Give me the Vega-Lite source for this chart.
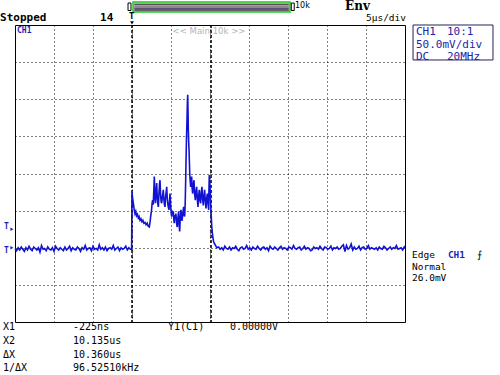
{
"$schema": "https://vega.github.io/schema/vega-lite/v6.json",
"width": 390, "height": 297,
"autosize": {"type": "none"},
"padding": {"left": 15, "top": 25, "right": 95, "bottom": 53},
"background": "white",
"config": {"view": {"stroke": "#000", "strokeWidth": 1}, "font": "DejaVu Sans Mono"},
"encoding": {
  "x": {"field": "t", "type": "quantitative", "scale": {"domain": [-15, 35], "nice": false, "zero": false},
        "axis": {"values": [-10,-5,0,5,10,15,20,25,30], "grid": true, "gridDash": [1,3], "gridColor": "#000", "gridOpacity": 1, "gridWidth": 1, "labels": false, "ticks": false, "domain": false, "title": null}},
  "y": {"field": "v", "type": "quantitative", "scale": {"domain": [-100, 300], "nice": false, "zero": false},
        "axis": {"values": [-50,0,50,100,150,200,250], "grid": true, "gridDash": [1,3], "gridColor": "#000", "gridOpacity": 1, "gridWidth": 1, "labels": false, "ticks": false, "domain": false, "title": null}}
},
"layer": [
  {"data": {"values": [{"t": 0}, {"t": 10.135}]},
   "mark": {"type": "rule", "color": "#000", "strokeWidth": 1.5, "strokeDash": [3, 2]},
   "encoding": {"y": null}},
  {"data": {"values": [
    {"t":-15.0,"v":-1},{"t":-14.8,"v":-4},{"t":-14.6,"v":0},{"t":-14.4,"v":-3},{"t":-14.2,"v":1},{"t":-14.0,"v":-2},{"t":-13.8,"v":-5},{"t":-13.6,"v":0},{"t":-13.4,"v":-3},{"t":-13.2,"v":2},
    {"t":-13.0,"v":-2},{"t":-12.8,"v":-4},{"t":-12.6,"v":1},{"t":-12.4,"v":-1},{"t":-12.2,"v":-3},{"t":-12.0,"v":0},{"t":-11.8,"v":-6},{"t":-11.6,"v":3},{"t":-11.4,"v":-2},{"t":-11.2,"v":-1},
    {"t":-11.0,"v":-4},{"t":-10.8,"v":1},{"t":-10.6,"v":-2},{"t":-10.4,"v":-3},{"t":-10.2,"v":0},{"t":-10.0,"v":-5},{"t":-9.8,"v":2},{"t":-9.6,"v":-1},{"t":-9.4,"v":-3},{"t":-9.2,"v":0},
    {"t":-9.0,"v":-2},{"t":-8.8,"v":-4},{"t":-8.6,"v":1},{"t":-8.4,"v":-3},{"t":-8.2,"v":-1},{"t":-8.0,"v":2},{"t":-7.8,"v":-4},{"t":-7.6,"v":0},{"t":-7.4,"v":-2},{"t":-7.2,"v":-3},
    {"t":-7.0,"v":1},{"t":-6.8,"v":-1},{"t":-6.6,"v":-5},{"t":-6.4,"v":0},{"t":-6.2,"v":-2},{"t":-6.0,"v":3},{"t":-5.8,"v":-3},{"t":-5.6,"v":-1},{"t":-5.4,"v":0},{"t":-5.2,"v":-4},
    {"t":-5.0,"v":2},{"t":-4.8,"v":-2},{"t":-4.6,"v":-1},{"t":-4.4,"v":-3},{"t":-4.2,"v":4},{"t":-4.0,"v":-2},{"t":-3.8,"v":0},{"t":-3.6,"v":-3},{"t":-3.4,"v":1},{"t":-3.2,"v":-4},
    {"t":-3.0,"v":-1},{"t":-2.8,"v":0},{"t":-2.6,"v":-2},{"t":-2.4,"v":3},{"t":-2.2,"v":-3},{"t":-2.0,"v":-1},{"t":-1.8,"v":1},{"t":-1.6,"v":-4},{"t":-1.4,"v":0},{"t":-1.2,"v":-2},
    {"t":-1.0,"v":-1},{"t":-0.8,"v":2},{"t":-0.6,"v":-3},{"t":-0.4,"v":0},{"t":-0.2,"v":-2},{"t":-0.05,"v":-2},
    {"t":0.0,"v":75},{"t":0.08,"v":66},{"t":0.17,"v":60},{"t":0.27,"v":52},{"t":0.38,"v":46},{"t":0.48,"v":49},{"t":0.58,"v":43},{"t":0.7,"v":45},{"t":0.81,"v":40},{"t":0.92,"v":42},
    {"t":1.03,"v":37},{"t":1.15,"v":39},{"t":1.27,"v":35},{"t":1.4,"v":37},{"t":1.52,"v":33},{"t":1.67,"v":34},{"t":1.8,"v":31},{"t":1.95,"v":33},{"t":2.08,"v":29},{"t":2.22,"v":28},
    {"t":2.32,"v":35},{"t":2.39,"v":42},{"t":2.5,"v":50},{"t":2.58,"v":60},{"t":2.65,"v":64},{"t":2.72,"v":58},{"t":2.8,"v":78},{"t":2.86,"v":96},{"t":2.93,"v":70},{"t":3.0,"v":60},
    {"t":3.08,"v":75},{"t":3.16,"v":87},{"t":3.25,"v":65},{"t":3.32,"v":58},{"t":3.38,"v":55},{"t":3.45,"v":72},{"t":3.52,"v":85},{"t":3.59,"v":91},{"t":3.67,"v":70},{"t":3.74,"v":62},
    {"t":3.81,"v":60},{"t":3.9,"v":70},{"t":3.96,"v":73},{"t":4.01,"v":78},{"t":4.1,"v":64},{"t":4.16,"v":58},{"t":4.23,"v":55},{"t":4.3,"v":68},{"t":4.38,"v":75},{"t":4.45,"v":82},
    {"t":4.52,"v":66},{"t":4.6,"v":58},{"t":4.67,"v":54},{"t":4.74,"v":51},{"t":4.8,"v":62},{"t":4.87,"v":73},{"t":4.95,"v":58},{"t":5.02,"v":47},{"t":5.09,"v":42},{"t":5.16,"v":50},
    {"t":5.23,"v":46},{"t":5.3,"v":49},{"t":5.36,"v":38},{"t":5.42,"v":33},{"t":5.5,"v":44},{"t":5.56,"v":40},{"t":5.63,"v":46},{"t":5.7,"v":35},{"t":5.76,"v":30},{"t":5.81,"v":28},
    {"t":5.88,"v":40},{"t":5.94,"v":45},{"t":5.98,"v":49},{"t":6.04,"v":32},{"t":6.11,"v":22},{"t":6.18,"v":38},{"t":6.24,"v":46},{"t":6.28,"v":51},{"t":6.35,"v":43},{"t":6.4,"v":36},
    {"t":6.45,"v":40},{"t":6.52,"v":47},{"t":6.58,"v":52},{"t":6.62,"v":55},{"t":6.68,"v":44},{"t":6.75,"v":42},{"t":6.82,"v":60},{"t":6.88,"v":90},{"t":6.92,"v":114},{"t":6.98,"v":145},
    {"t":7.05,"v":172},{"t":7.1,"v":195},{"t":7.14,"v":206},{"t":7.18,"v":185},{"t":7.22,"v":159},{"t":7.27,"v":142},{"t":7.31,"v":132},{"t":7.36,"v":115},{"t":7.4,"v":100},{"t":7.46,"v":90},
    {"t":7.52,"v":82},{"t":7.58,"v":88},{"t":7.65,"v":96},{"t":7.71,"v":80},{"t":7.78,"v":73},{"t":7.86,"v":85},{"t":7.95,"v":91},{"t":8.03,"v":72},{"t":8.12,"v":64},{"t":8.2,"v":75},
    {"t":8.29,"v":82},{"t":8.37,"v":66},{"t":8.46,"v":55},{"t":8.54,"v":70},{"t":8.63,"v":78},{"t":8.71,"v":64},{"t":8.8,"v":60},{"t":8.88,"v":74},{"t":8.97,"v":82},{"t":9.05,"v":66},
    {"t":9.14,"v":57},{"t":9.22,"v":70},{"t":9.31,"v":78},{"t":9.4,"v":62},{"t":9.49,"v":53},{"t":9.57,"v":66},{"t":9.66,"v":73},{"t":9.74,"v":60},{"t":9.83,"v":51},{"t":9.87,"v":80},
    {"t":9.91,"v":98},{"t":9.97,"v":88},{"t":10.04,"v":73},{"t":10.1,"v":55},{"t":10.17,"v":40},{"t":10.23,"v":28},{"t":10.3,"v":20},{"t":10.38,"v":13},{"t":10.47,"v":8},{"t":10.6,"v":5},
    {"t":10.73,"v":3},{"t":10.85,"v":0},
    {"t":11.1,"v":1},{"t":11.3,"v":-2},{"t":11.5,"v":0},{"t":11.7,"v":-3},{"t":11.9,"v":2},{"t":12.1,"v":-1},{"t":12.3,"v":-2},{"t":12.5,"v":1},{"t":12.7,"v":-3},{"t":12.9,"v":0},
    {"t":13.1,"v":-1},{"t":13.3,"v":2},{"t":13.5,"v":-2},{"t":13.7,"v":-4},{"t":13.9,"v":0},{"t":14.1,"v":1},{"t":14.3,"v":-2},{"t":14.5,"v":-1},{"t":14.7,"v":3},{"t":14.9,"v":-2},
    {"t":15.1,"v":0},{"t":15.3,"v":-3},{"t":15.5,"v":1},{"t":15.7,"v":-1},{"t":15.9,"v":-2},{"t":16.1,"v":2},{"t":16.3,"v":-1},{"t":16.5,"v":-3},{"t":16.7,"v":0},{"t":16.9,"v":1},
    {"t":17.1,"v":-2},{"t":17.3,"v":0},{"t":17.5,"v":-4},{"t":17.7,"v":2},{"t":17.9,"v":-1},{"t":18.1,"v":-2},{"t":18.3,"v":1},{"t":18.5,"v":-1},{"t":18.7,"v":-3},{"t":18.9,"v":0},
    {"t":19.1,"v":2},{"t":19.3,"v":-2},{"t":19.5,"v":0},{"t":19.7,"v":-1},{"t":19.9,"v":-3},{"t":20.1,"v":1},{"t":20.3,"v":0},{"t":20.5,"v":-2},{"t":20.7,"v":3},{"t":20.9,"v":-1},
    {"t":21.1,"v":-2},{"t":21.3,"v":0},{"t":21.5,"v":1},{"t":21.7,"v":-3},{"t":21.9,"v":-1},{"t":22.1,"v":2},{"t":22.3,"v":-2},{"t":22.5,"v":0},{"t":22.7,"v":-1},{"t":22.9,"v":-4},
    {"t":23.1,"v":-3},{"t":23.3,"v":1},{"t":23.5,"v":-1},{"t":23.7,"v":0},{"t":23.9,"v":-2},{"t":24.1,"v":2},{"t":24.3,"v":-1},{"t":24.5,"v":-3},{"t":24.7,"v":1},{"t":24.9,"v":0},
    {"t":25.1,"v":-2},{"t":25.3,"v":-1},{"t":25.5,"v":2},{"t":25.7,"v":-3},{"t":25.9,"v":0},{"t":26.1,"v":-1},{"t":26.3,"v":1},{"t":26.5,"v":-2},{"t":26.7,"v":-1},{"t":26.9,"v":2},
    {"t":27.1,"v":4},{"t":27.3,"v":-5},{"t":27.5,"v":3},{"t":27.7,"v":-2},{"t":27.9,"v":0},{"t":28.1,"v":5},{"t":28.3,"v":-3},{"t":28.5,"v":1},{"t":28.7,"v":-2},{"t":28.9,"v":-1},
    {"t":29.1,"v":2},{"t":29.3,"v":-3},{"t":29.5,"v":0},{"t":29.7,"v":1},{"t":29.9,"v":-2},{"t":30.1,"v":-1},{"t":30.3,"v":3},{"t":30.5,"v":-2},{"t":30.7,"v":0},{"t":30.9,"v":-1},
    {"t":31.1,"v":-2},{"t":31.3,"v":0},{"t":31.5,"v":-3},{"t":31.7,"v":1},{"t":31.9,"v":-1},{"t":32.1,"v":-2},{"t":32.3,"v":2},{"t":32.5,"v":0},{"t":32.7,"v":-3},{"t":32.9,"v":-1},
    {"t":33.1,"v":1},{"t":33.3,"v":-2},{"t":33.5,"v":0},{"t":33.7,"v":-1},{"t":33.9,"v":3},{"t":34.1,"v":-2},{"t":34.3,"v":-1},{"t":34.5,"v":0},{"t":34.7,"v":-3},{"t":34.9,"v":1},
    {"t":35.0,"v":-1}
   ]},
   "mark": {"type": "line", "color": "#1212d2", "strokeWidth": 1.6, "interpolate": "linear"}},
  {"data": {"values": [{"t": 0.13, "t2": 20.26, "v": 331.0, "v2": 317.5}]},
   "mark": {"type": "rect", "fill": "#c4c4c4", "stroke": "#22cc22", "strokeWidth": 1.5},
   "encoding": {"x2": {"field": "t2"}, "y2": {"field": "v2"}}},
  {"data": {"values": [{"t": -0.51, "t2": -0.13, "v": 329.6, "v2": 319.5}, {"t": 20.42, "t2": 20.8, "v": 329.6, "v2": 319.5}]},
   "mark": {"type": "rect", "fill": "#fff", "stroke": "#000", "strokeWidth": 1},
   "encoding": {"x2": {"field": "t2"}, "y2": {"field": "v2"}}},
  {"data": {"values": [{"t": 0.3, "t2": 20.1, "v": 327.6, "s": "a"}, {"t": 0.3, "t2": 20.1, "v": 325.0, "s": "b"}, {"t": 0.3, "t2": 20.1, "v": 322.6, "s": "c"}, {"t": 0.3, "t2": 20.1, "v": 320.2, "s": "d"}]},
   "mark": {"type": "rule", "strokeWidth": 1.5},
   "encoding": {"x2": {"field": "t2"}, "color": {"field": "s", "type": "nominal", "scale": {"domain": ["a","b","c","d"], "range": ["#505050","#8a8a8a","#6a4a7a","#404040"]}, "legend": null}}},
  {"data": {"values": [{"t": 36.03, "t2": 46.28, "v": 300, "v2": 252.9}]},
   "mark": {"type": "rect", "fill": "#fff", "stroke": "#202060", "strokeWidth": 1},
   "encoding": {"x2": {"field": "t2"}, "y2": {"field": "v2"}}},
  {"data": {"values": [{"t": -16.92, "v": 309.4, "label": "Stopped"}, {"t": -4.1, "v": 309.4, "label": "14"}]},
   "mark": {"type": "text", "align": "left", "baseline": "middle", "fontSize": 11, "fontWeight": "bold", "color": "#000", "font": "DejaVu Sans Mono"},
   "encoding": {"text": {"field": "label"}}},
  {"data": {"values": [{"t": 27.31, "v": 325.6, "label": "Env"}]},
   "mark": {"type": "text", "align": "left", "baseline": "middle", "fontSize": 12, "fontWeight": "bold", "color": "#000", "font": "DejaVu Serif"},
   "encoding": {"text": {"field": "label"}}},
  {"data": {"values": [{"t": 35.13, "v": 309.4, "label": "5µs/div"}]},
   "mark": {"type": "text", "align": "right", "baseline": "middle", "fontSize": 9.5, "color": "#000", "font": "DejaVu Sans Mono"},
   "encoding": {"text": {"field": "label"}}},
  {"data": {"values": [{"t": 20.9, "v": 325.0, "label": "10k"}]},
   "mark": {"type": "text", "align": "left", "baseline": "middle", "fontSize": 8, "color": "#000", "font": "DejaVu Sans"},
   "encoding": {"text": {"field": "label"}}},
  {"data": {"values": [{"t": 9.87, "v": 291.9, "label": "<< Main:10k >>"}]},
   "mark": {"type": "text", "align": "center", "baseline": "middle", "fontSize": 8.5, "color": "#b4b4b4", "font": "DejaVu Sans"},
   "encoding": {"text": {"field": "label"}}},
  {"data": {"values": [{"t": -14.74, "v": 291.9, "label": "CH1"}]},
   "mark": {"type": "text", "align": "left", "baseline": "middle", "fontSize": 8, "fontWeight": "bold", "color": "#1f1fb0", "font": "DejaVu Sans Mono"},
   "encoding": {"text": {"field": "label"}}},
  {"data": {"values": [{"t": 36.41, "v": 290.6, "label": "CH1"}, {"t": 40.38, "v": 290.6, "label": "10:1"}, {"t": 36.41, "v": 273.6, "label": "50.0mV/div"}, {"t": 36.41, "v": 257.4, "label": "DC"}, {"t": 40.38, "v": 257.4, "label": "20MHz"}]},
   "mark": {"type": "text", "align": "left", "baseline": "middle", "fontSize": 11, "color": "#2424a8", "font": "DejaVu Sans Mono"},
   "encoding": {"text": {"field": "label"}}},
  {"data": {"values": [{"t": 35.9, "v": -10.4, "label": "Edge"}, {"t": 35.9, "v": -25.9, "label": "Normal"}, {"t": 35.9, "v": -40.1, "label": "26.0mV"}, {"t": 44.2, "v": -10.4, "label": "⨍"}]},
   "mark": {"type": "text", "align": "left", "baseline": "middle", "fontSize": 9.5, "color": "#000", "font": "DejaVu Sans Mono"},
   "encoding": {"text": {"field": "label"}}},
  {"data": {"values": [{"t": 40.5, "v": -10.4, "label": "CH1"}]},
   "mark": {"type": "text", "align": "left", "baseline": "middle", "fontSize": 9.5, "fontWeight": "bold", "color": "#1f1fb0", "font": "DejaVu Sans Mono"},
   "encoding": {"text": {"field": "label"}}},
  {"data": {"values": [
    {"t": -16.54, "v": -106.7, "label": "X1"}, {"t": -16.54, "v": -125.6, "label": "X2"}, {"t": -16.54, "v": -143.8, "label": "ΔX"}, {"t": -16.54, "v": -162.6, "label": "1/ΔX"},
    {"t": -7.56, "v": -106.7, "label": "-225ns"}, {"t": -7.56, "v": -125.6, "label": "10.135us"}, {"t": -7.56, "v": -143.8, "label": "10.360us"}, {"t": -7.56, "v": -162.6, "label": "96.52510kHz"},
    {"t": 4.62, "v": -106.7, "label": "Y1(C1)"}, {"t": 12.56, "v": -106.7, "label": "0.00000V"}]},
   "mark": {"type": "text", "align": "left", "baseline": "middle", "fontSize": 10, "color": "#000", "font": "DejaVu Sans Mono"},
   "encoding": {"text": {"field": "label"}}},
  {"data": {"values": [{"t": -0.05, "v": 311.5, "label": "T"}]},
   "mark": {"type": "text", "align": "center", "baseline": "middle", "fontSize": 9, "fontWeight": "bold", "color": "#000", "font": "DejaVu Sans Mono"},
   "encoding": {"text": {"field": "label"}}},
  {"data": {"values": [{"t": 0, "v": 303}]},
   "mark": {"type": "point", "shape": "triangle-down", "filled": true, "size": 14, "color": "#000", "opacity": 1}},
  {"data": {"values": [{"t": -16.1, "v": 27.5, "label": "T"}, {"t": -16.1, "v": -4, "label": "T"}]},
   "mark": {"type": "text", "align": "center", "baseline": "middle", "fontSize": 8, "fontWeight": "bold", "color": "#1f1fb0", "font": "DejaVu Sans Mono"},
   "encoding": {"text": {"field": "label"}}},
  {"data": {"values": [{"t": -15.4, "v": 25}, {"t": -15.4, "v": 0}]},
   "mark": {"type": "point", "shape": "triangle-right", "filled": true, "size": 12, "color": "#1f1fb0", "opacity": 1}}
]
}
